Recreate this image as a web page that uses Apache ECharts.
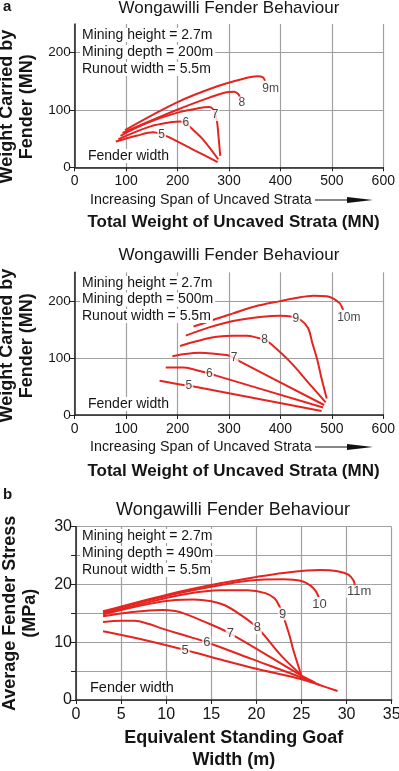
<!DOCTYPE html>
<html>
<head>
<meta charset="utf-8">
<script src="https://cdn.jsdelivr.net/npm/echarts@6/dist/echarts.min.js"></script>
<style>
html,body{margin:0;padding:0;background:#fff;}
#chart{width:399px;height:771px;}
</style>
</head>
<body>
<div id="chart"></div>
<script>
// ---------- DATA ----------
// Panel a (top): Mining depth 200m  [Total weight of uncaved strata (MN), Weight carried by fender (MN)]
const a5 = [[80,45],[120,55],[153,61],[170,57],[182,53],[230,31],[278,9]];
const a6 = [[85,49],[146,71],[190,79],[205,80],[216,77],[227,68],[250,48],[279,14]];
const a7 = [[89,55],[140,77],[198,95],[240,103],[262,105],[270,100],[274,90],[277,78],[280,50],[283,20]];
const a8 = [[93,60],[198,100],[263,122],[295,131],[310,132],[318,128],[321,122]];
const a9 = [[98,65],[198,113],[276,141],[330,155],[355,159],[366,157],[370,151]];
const labelsA = [['5',169,57],['6',216,77],['7',273,91],['8',325,113],['9m',381,137]];

// Panel a (middle): Mining depth 500m
const b5 = [[165,60],[211,52.5],[234,49.5],[480,7]];
const b6 = [[177,83],[211,83],[235,79],[262,73],[275,69],[483,13]];
const b7 = [[190,103],[215,107],[244,109],[275,107],[296,105],[310,100],[320,94.5],[485,17.5]];
const b8 = [[205,121],[240,130],[276,137],[310,139],[334,139],[357,135],[369,132],[380,125.5],[419,93],[455,56],[488,22]];
const b9 = [[216,139],[260,153],[308,164.5],[360,171.5],[400,174],[420,172.5],[440,166],[454,152],[462,126],[471,99],[480,64],[490,29]];
const b10 = [[231,155],[270,167],[308,178],[350,190],[399,199.5],[430,205],[464,209],[490,208],[503,204],[515,196],[519,190],[522,184]];
const labelsB = [['5',222,51],['6',262,73],['7',310,100.5],['8',369,132],['9',430,168],['10m',533,170]];

// Panel b: Mining depth 490m  [Equivalent standing goaf width (m), Average fender stress (MPa)]
const c5 = [[3,11.9],[7,10.6],[12.1,8.65],[16.5,6.8],[20,5.4],[25,3.6],[27,2.6],[29,1.55]];
const c6 = [[3,13.5],[5,13.7],[6.5,13.7],[8,13.2],[9.5,12.4],[12,11.2],[14.5,10],[19.3,7.2],[25,3.9],[27,2.6]];
const c7 = [[3,14.5],[6,15.2],[9.5,15.6],[11,15.4],[12.1,14.9],[14,13.7],[17.1,11.5],[25,4.2],[26.5,3.0]];
const c8 = [[3,14.8],[8,16.6],[11,17.3],[13,17.4],[15,17.1],[16.5,16.4],[18,15],[20.1,12.5],[22.8,7.6],[25,4.3]];
const c9 = [[3,15.0],[8,16.9],[12,18.3],[16,19],[19,19],[21,18.5],[22,17.6],[22.5,16.4],[22.9,14.9],[23.2,13.5],[23.7,11],[24.1,8.6],[25,4.2]];
const c10 = [[3,15.2],[10,18],[15,19.6],[19.3,20.7],[23,20.9],[25,20.6],[26,19.8],[26.6,18.8],[26.9,17.8]];
const c11 = [[3,15.35],[10,18.2],[15,19.9],[20,21.3],[23,22],[27,22.5],[29,22.3],[30.2,21.7],[30.8,20.6],[30.9,19.7]];
const labelsC = [['5',12.1,8.65],['6',14.5,9.9],['7',17.1,11.5],['8',20.1,12.5],['9',22.9,14.9],['10',27,16.6],['11m',31.4,18.8]];

// Tick labels
const ticksWeight = [0,100,200];
const ticksStress = [0,10,20,30];

const title = 'Wongawilli Fender Behaviour';
const notesA = ['Mining height = 2.7m','Mining depth = 200m','Runout width = 5.5m'];
const notesB = ['Mining height = 2.7m','Mining depth = 500m','Runout width = 5.5m'];
const notesC = ['Mining height = 2.7m','Mining depth = 490m','Runout width = 5.5m'];

// ---------- STYLE ----------
const FONT = '"Liberation Sans", Arial, Helvetica, sans-serif';
const RED = '#e52420';
const TXT = '#151515';
const GRID = '#a0a0a0';

const chart = echarts.init(document.getElementById('chart'), null, {renderer:'canvas'});

function xAxisDef(gi, max, interval, name, gap, fs, lfs, margin, pad) {
  return {
    type:'value', gridIndex:gi, min:0, max:max, interval:interval,
    name:name, nameLocation:'middle', nameGap:gap,
    nameTextStyle:{fontFamily:FONT, fontWeight:'bold', fontSize:fs, color:TXT, lineHeight:22, padding:pad||0},
    axisLine:{show:true, lineStyle:{color:'#222', width:1.5}},
    axisTick:{show:true, length:4, lineStyle:{color:'#222', width:1}},
    axisLabel:{fontFamily:FONT, fontSize:lfs, color:TXT, margin:margin},
    splitLine:{show:true, lineStyle:{color:GRID, width:1.2}}
  };
}
function yAxisDef(gi, max, interval, labels, tickVals, name, gap, lfs, pad) {
  const tick = {show:true, length:5, lineStyle:{color:'#222', width:1}};
  if (tickVals) tick.customValues = tickVals;
  return {
    type:'value', gridIndex:gi, min:0, max:max, interval:interval,
    name:name, nameLocation:'middle', nameGap:gap, nameRotate:90,
    nameTextStyle:{fontFamily:FONT, fontWeight:'bold', fontSize:18, color:TXT, lineHeight:20, padding:pad||0},
    axisLine:{show:true, lineStyle:{color:'#222', width:1.5}},
    axisTick:tick,
    axisLabel:{fontFamily:FONT, fontSize:lfs, color:TXT, margin:4, customValues:labels},
    splitLine:{show:true, lineStyle:{color:GRID, width:1.2}}
  };
}
function curve(gi, data) {
  return {type:'line', xAxisIndex:gi, yAxisIndex:gi, data:data, smooth:0.35, showSymbol:false,
    symbol:'none', lineStyle:{color:RED, width:2}, z:3, silent:true};
}
function labels(gi, arr, fs) {
  return {type:'scatter', xAxisIndex:gi, yAxisIndex:gi, z:5, symbolSize:1,
    itemStyle:{color:'rgba(0,0,0,0)'},
    data: arr.map(d => ({name:d[0], value:[d[1], d[2]]})),
    label:{show:true, position:'inside', formatter:p => p.name, fontFamily:FONT, fontSize:fs,
      color:TXT, backgroundColor:'#fff', padding:[0,1]}, silent:true};
}
function notes(lines, x, y0, step) {
  return lines.map((t,i) => ({type:'text', x:x, y:y0 + i*step, z:50,
    style:{text:t, font:'14px ' + FONT, fill:TXT, verticalAlign:'middle', backgroundColor:'#fff', padding:[0,2]}}));
}
function plainText(t, x, y, size, bold, bg) {
  return {type:'text', x:x, y:y, z:50,
    style:{text:t, font:(bold?'bold ':'') + size + 'px ' + FONT, fill:TXT, verticalAlign:'middle',
      backgroundColor: bg ? '#fff' : 'transparent', padding:[0,1]}};
}
function arrow(x0, x1, y) {
  return [
    {type:'line', z:50, shape:{x1:x0, y1:y, x2:x1-10, y2:y}, style:{stroke:'#111', lineWidth:1.2}},
    {type:'polygon', z:50, shape:{points:[[x1-26,y-3],[x1,y],[x1-26,y+3]]}, style:{fill:'#111'}}
  ];
}

const option = {
  backgroundColor:'#fff',
  animation:false,
  title:[
    {text:title, left:229, top:0, textAlign:'center', padding:0, textStyle:{fontFamily:FONT, fontWeight:'normal', fontSize:17, color:TXT}},
    {text:title, left:229, top:247, textAlign:'center', padding:0, textStyle:{fontFamily:FONT, fontWeight:'normal', fontSize:17, color:TXT}},
    {text:title, left:233, top:501, textAlign:'center', padding:0, textStyle:{fontFamily:FONT, fontWeight:'normal', fontSize:18, color:TXT}}
  ],
  grid:[
    {left:74.7, width:308.6, top:24, height:143.3, containLabel:false, outerBoundsMode:'none'},
    {left:74.7, width:308.6, top:272.3, height:142.7, containLabel:false, outerBoundsMode:'none'},
    {left:76, width:315.7, top:526.7, height:173.3, containLabel:false, outerBoundsMode:'none'}
  ],
  xAxis:[
    xAxisDef(0, 600, 100, 'Total Weight of Uncaved Strata (MN)', 44, 17, 14, 7, [0,0,0,9]),
    xAxisDef(1, 600, 100, 'Total Weight of Uncaved Strata (MN)', 45, 17, 14, 7, [0,0,0,9]),
    xAxisDef(2, 35, 5, 'Equivalent Standing Goaf\nWidth (m)', 27, 18, 16, 7, 0)
  ],
  yAxis:[
    yAxisDef(0, 250, 50, ticksWeight, ticksWeight, 'Weight Carried by\nFender (MN)', 36, 13.5, [0,22,0,0]),
    yAxisDef(1, 250, 50, ticksWeight, ticksWeight, 'Weight Carried by\nFender (MN)', 36, 13.5, [0,4,0,0]),
    yAxisDef(2, 30, 5, ticksStress, null, 'Average Fender Stress\n(MPa)', 36, 16, 0)
  ],
  series:[
    curve(0,a5), curve(0,a6), curve(0,a7), curve(0,a8), curve(0,a9),
    curve(1,b5), curve(1,b6), curve(1,b7), curve(1,b8), curve(1,b9), curve(1,b10),
    curve(2,c5), curve(2,c6), curve(2,c7), curve(2,c8), curve(2,c9), curve(2,c10), curve(2,c11),
    labels(0, labelsA, 12), labels(1, labelsB, 12), labels(2, labelsC, 13)
  ],
  graphic:[
    plainText('a', 2, 7, 15, true, false),
    plainText('b', 2, 495, 15, true, false),
    ...notes(notesA, 80, 35, 17),
    ...notes(notesB, 80, 283, 16.5),
    ...notes(notesC, 80, 536, 17),
    plainText('Fender width', 87, 156, 14, false, true),
    plainText('Fender width', 87, 404, 14, false, true),
    plainText('Fender width', 89, 688, 14.5, false, true),
    plainText('Increasing Span of Uncaved Strata', 89, 200, 14.3, false, false),
    plainText('Increasing Span of Uncaved Strata', 89, 447, 14.3, false, false),
    ...arrow(315, 373, 200),
    ...arrow(315, 373, 447)
  ]
};
chart.setOption(option);
</script>
</body>
</html>
